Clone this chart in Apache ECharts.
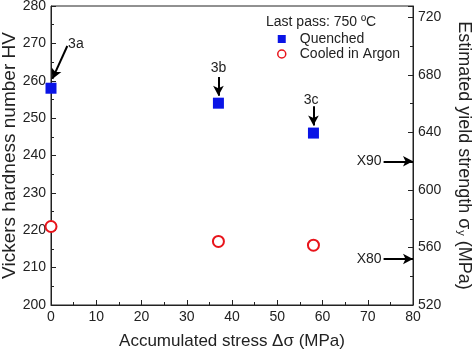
<!DOCTYPE html>
<html><head><meta charset="utf-8">
<script src="https://cdn.jsdelivr.net/npm/echarts@6/dist/echarts.min.js"></script>
<style>html,body{margin:0;padding:0;background:#fff}#c{width:474px;height:349px}</style>
</head><body><div id="c"></div>
<script>
const stress = [0, 37, 58];
const quenched = [258, 254, 246];
const argon = [221, 217, 216];
const xTicks = [0, 10, 20, 30, 40, 50, 60, 70, 80];
const hvTicks = [200, 210, 220, 230, 240, 250, 260, 270, 280];
const sigmaTicks = [520, 560, 600, 640, 680, 720];
const gradeNames = ['X90', 'X80'];
const gradeValues = [620, 552];
const labelsAB = ['3a', '3b', '3c'];

const F = 'Liberation Sans, Arial, sans-serif';
const chart = echarts.init(document.getElementById('c'));
const axisCommon = {
  nameMoveOverlap: false,
  axisLine: {show: true, lineStyle: {color: '#222', width: 1}},
  axisTick: {show: true, inside: true, length: 5, lineStyle: {color: '#222'}},
  minorTick: {show: true, splitNumber: 2, length: 3, lineStyle: {color: '#222'}},
  splitLine: {show: false},
  axisLabel: {color: '#222', fontFamily: F, fontSize: 14, margin: 5}
};
const txt = {fontFamily: F, fontSize: 14, color: '#222'};
chart.setOption({
  animation: false,
  title: {text: 'Last pass: 750 ºC', left: 266, top: 15, padding: 0, textStyle: Object.assign({}, txt, {fontWeight: 'normal'})},
  legend: {
    orient: 'vertical', left: 277, top: 32, padding: 0, itemGap: 1, itemWidth: 8, itemHeight: 8,
    textStyle: Object.assign({}, txt, {padding: [0, 0, 0, 9]}),
    data: [
      {name: 'Quenched', icon: 'rect', itemStyle: {color: '#0a14e6'}},
      {name: 'Cooled in Argon', icon: 'circle', itemStyle: {color: '#fff', borderColor: '#e8141b', borderWidth: 1.5}}
    ]
  },
  grid: {left: 51, right: 61, top: 6, bottom: 44, show: true, borderColor: '#222', borderWidth: 1, outerBoundsMode: 'none', containLabel: false},
  xAxis: Object.assign({}, axisCommon, {
    type: 'value', min: xTicks[0], max: xTicks[xTicks.length - 1], interval: 10,
    name: 'Accumulated stress Δσ (MPa)', nameLocation: 'middle', nameGap: 28,
    nameTextStyle: {fontFamily: F, fontSize: 17, color: '#222', verticalAlign: 'top'}
  }),
  yAxis: [
    Object.assign({}, axisCommon, {
      type: 'value', min: hvTicks[0], max: hvTicks[hvTicks.length - 1], interval: 10,
      name: 'Vickers hardness number HV', nameLocation: 'middle', nameGap: 32,
      nameTextStyle: {fontFamily: F, fontSize: 19, color: '#222', verticalAlign: 'bottom'}
    }),
    Object.assign({}, axisCommon, {
      type: 'value', min: sigmaTicks[0], max: 728, interval: 40, position: 'right',
      name: 'Estimated yield strength σ{s|y} (MPa)', nameLocation: 'middle', nameGap: 42, nameRotate: -90,
      nameTextStyle: {fontFamily: F, fontSize: 18, color: '#222', verticalAlign: 'bottom', rich: {s: {fontSize: 11, padding: [6, 0, 0, 1], fontFamily: F, color: '#222'}}},
      axisLabel: Object.assign({}, axisCommon.axisLabel, {showMaxLabel: false})
    })
  ],
  series: [
    {
      name: 'Quenched', type: 'scatter', symbol: 'rect', symbolSize: 11, clip: true,
      itemStyle: {color: '#0a14e6', opacity: 1},
      data: stress.map((x, i) => [x, quenched[i]]),
      markPoint: {
        silent: true, symbol: 'circle', symbolSize: 0,
        label: Object.assign({show: true, position: 'inside', formatter: p => p.name}, txt),
        data: [
          {name: labelsAB[0], coord: [5.5, 269.8]},
          {name: labelsAB[1], coord: [stress[1], 263.4]},
          {name: labelsAB[2], coord: [stress[2] - 0.5, 254.8]}
        ]
      },
      markLine: {
        silent: true, symbol: ['none', 'arrow'], symbolSize: [8, 10],
        lineStyle: {color: '#000', width: 2, type: 'solid'},
        label: {show: false},
        data: [
          [{coord: [3.6, 269.3], lineStyle: {curveness: 0.35}}, {coord: [0.3, 260.5]}],
          [{coord: [stress[1], 261.0]}, {coord: [stress[1], 256.0]}],
          [{coord: [stress[2], 253.2]}, {coord: [stress[2], 248.0]}]
        ]
      }
    },
    {
      name: 'Cooled in Argon', type: 'scatter', symbol: 'circle', symbolSize: 11, clip: true,
      itemStyle: {color: '#fff', borderColor: '#e8141b', borderWidth: 2, opacity: 1},
      data: stress.map((x, i) => [x, argon[i]])
    },
    {
      name: 'grades', type: 'scatter', yAxisIndex: 1, data: [],
      markLine: {
        silent: true, symbol: ['none', 'arrow'], symbolSize: [8, 10],
        lineStyle: {color: '#000', width: 2, type: 'solid'},
        label: Object.assign({show: true, position: 'start', formatter: p => p.name, distance: 2}, txt),
        data: gradeNames.map((n, i) => [{name: n, coord: [73.5, gradeValues[i]]}, {coord: [80, gradeValues[i]]}])
      }
    }
  ]
});
</script></body></html>
